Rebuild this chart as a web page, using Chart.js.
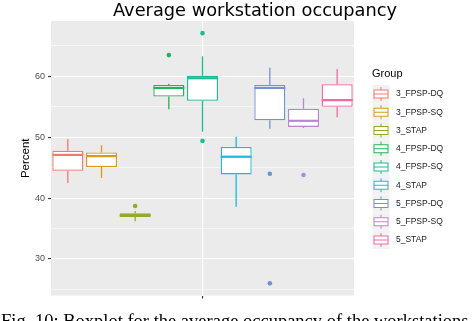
<!DOCTYPE html>
<html>
<head>
<meta charset="utf-8">
<script src="https://cdn.jsdelivr.net/npm/chart.js@4.4.1/dist/chart.umd.min.js"></script>
<style>
    html, body { margin: 0; padding: 0; background: #fff; overflow: hidden; }
    #wrap { position: relative; width: 474px; height: 321px; }
    #caption {
        position: absolute; left: 1px; top: 312px;
        font: 18.5px "Liberation Serif", "Times New Roman", serif; line-height: 18.5px;
        white-space: nowrap; color: #000;
    }
</style>
</head>
<body>
<div id="wrap">
    <canvas id="occupancyChart"></canvas>
    <div id="caption">Fig. 10: Boxplot for the average occupancy of the workstations</div>
</div>
<script>
// --- DATA ---
const groups = ['3_FPSP-DQ', '3_FPSP-SQ', '3_STAP', '4_FPSP-DQ', '4_FPSP-SQ', '4_STAP', '5_FPSP-DQ', '5_FPSP-SQ', '5_STAP'];
const groupColors = ['#F2796F', '#D69A1C', '#93AA2A', '#22B552', '#1DBB98', '#1FB6DE', '#7093D0', '#B987D2', '#EC6AA6'];
const whiskerLow  = [42.5, 43.3, 36.2, 54.6, 50.9, 38.6, 51.4, 51.5, 53.3];
const q1          = [44.5, 45.1, 36.9, 56.7, 56.0, 43.9, 52.8, 51.7, 55.0];
const median      = [47.1, 46.9, 37.2, 58.1, 59.7, 46.8, 58.1, 52.7, 56.1];
const q3          = [47.8, 47.5, 37.5, 58.6, 60.1, 48.4, 58.6, 54.7, 58.7];
const whiskerHigh = [49.7, 48.7, 37.9, 58.8, 63.3, 50.1, 61.4, 56.4, 61.2];
const outliers    = [[], [], [38.7], [63.5], [67.1, 49.4], [], [44.0, 26.0], [43.8], []];
const yTicks = [30, 40, 50, 60];
const yMinorTicks = [25, 35, 45, 55, 65];

// --- HELPERS ---
const outlierPoints = [];
const outlierColors = [];
outliers.forEach((vals, i) => {
    vals.forEach(v => {
        outlierPoints.push({ x: i + 1, y: v });
        outlierColors.push(groupColors[i]);
    });
});

// panel background, whiskers, medians, title and legend
const boxplotPlugin = {
    id: 'boxplotParts',
    beforeDraw(chart) {
        const { ctx, chartArea: a } = chart;
        ctx.save();
        ctx.fillStyle = '#EBEBEB';
        ctx.fillRect(a.left, a.top, a.right - a.left, a.bottom - a.top);
        ctx.restore();
    },
    beforeDatasetsDraw(chart) {
        const { ctx } = chart;
        const y = chart.scales.y;
        const bars = chart.getDatasetMeta(0).data;
        ctx.save();
        ctx.lineWidth = 1.3;
        bars.forEach((bar, i) => {
            ctx.strokeStyle = groupColors[i];
            ctx.beginPath();
            ctx.moveTo(bar.x, y.getPixelForValue(whiskerHigh[i]));
            ctx.lineTo(bar.x, y.getPixelForValue(q3[i]));
            ctx.moveTo(bar.x, y.getPixelForValue(q1[i]));
            ctx.lineTo(bar.x, y.getPixelForValue(whiskerLow[i]));
            ctx.stroke();
        });
        ctx.restore();
    },
    afterDatasetsDraw(chart) {
        const { ctx } = chart;
        const y = chart.scales.y;
        const bars = chart.getDatasetMeta(0).data;
        ctx.save();
        ctx.lineWidth = 2.2;
        bars.forEach((bar, i) => {
            const py = y.getPixelForValue(median[i]);
            ctx.strokeStyle = groupColors[i];
            ctx.beginPath();
            ctx.moveTo(bar.x - bar.width / 2, py);
            ctx.lineTo(bar.x + bar.width / 2, py);
            ctx.stroke();
        });
        ctx.restore();
    },
    afterDraw(chart) {
        const { ctx } = chart;
        ctx.save();
        // title
        ctx.fillStyle = '#000';
        ctx.font = '17.8px "DejaVu Sans", sans-serif';
        ctx.textAlign = 'center';
        ctx.textBaseline = 'alphabetic';
        ctx.fillText('Average workstation occupancy', 255, 15.5);

        // legend
        ctx.textAlign = 'left';
        ctx.textBaseline = 'middle';
        ctx.font = '11px "Liberation Sans", Arial, sans-serif';
        ctx.fillText('Group', 372, 74);
        ctx.font = '8.5px "Liberation Sans", Arial, sans-serif';
        groups.forEach((g, i) => {
            const cy = 94 + i * 18.25;
            const cx = 381;
            ctx.fillStyle = '#F2F2F2';
            ctx.fillRect(cx - 8.5, cy - 9, 17, 18);
            ctx.strokeStyle = groupColors[i];
            ctx.lineWidth = 1;
            ctx.beginPath();
            ctx.moveTo(cx, cy - 7);
            ctx.lineTo(cx, cy + 7);
            ctx.stroke();
            ctx.fillStyle = '#fff';
            ctx.fillRect(cx - 7, cy - 4, 14, 8);
            ctx.strokeRect(cx - 7, cy - 4, 14, 8);
            ctx.beginPath();
            ctx.moveTo(cx - 7, cy);
            ctx.lineTo(cx + 7, cy);
            ctx.stroke();
            ctx.fillStyle = '#1A1A1A';
            ctx.fillText(g, 396, cy);
        });
        ctx.restore();
    }
};

Chart.defaults.font.family = '"Liberation Sans", Arial, sans-serif';

new Chart(document.getElementById('occupancyChart'), {
    type: 'bar',
    data: {
        datasets: [
            {
                type: 'bar',
                data: groups.map((g, i) => ({ x: i + 1, y: [q1[i], q3[i]] })),
                backgroundColor: '#FFFFFF',
                borderColor: groupColors,
                borderWidth: 1.3,
                borderSkipped: false,
                categoryPercentage: 1,
                barPercentage: 0.92
            },
            {
                type: 'scatter',
                data: outlierPoints,
                pointBackgroundColor: outlierColors,
                pointBorderWidth: 0,
                pointRadius: 2.3
            }
        ]
    },
    options: {
        responsive: true,
        maintainAspectRatio: false,
        animation: false,
        layout: { padding: { left: 0, top: 21, right: 120, bottom: 20.5 } },
        plugins: { legend: { display: false }, title: { display: false }, tooltip: { enabled: false } },
        scales: {
            x: {
                type: 'linear',
                min: 0.5,
                max: 9.5,
                offset: false,
                border: { display: false },
                grid: { offset: false, color: '#FFFFFF', lineWidth: 1.1, tickColor: '#333333', tickLength: 3 },
                ticks: { callback: () => '', padding: 0 },
                afterBuildTicks: axis => { axis.ticks = [{ value: 5 }]; },
                afterFit: axis => { axis.height = 5; }
            },
            y: {
                type: 'linear',
                min: 24,
                max: 69.1,
                border: { display: false },
                grid: {
                    color: '#FFFFFF',
                    lineWidth: c => (yTicks.includes(c.tick && c.tick.value) ? 1.1 : 0.55),
                    tickColor: c => (yTicks.includes(c.tick && c.tick.value) ? '#333333' : 'rgba(0,0,0,0)'),
                    tickLength: 3
                },
                ticks: {
                    autoSkip: false,
                    padding: 3,
                    color: '#4D4D4D',
                    font: { size: 9 },
                    callback: v => (yTicks.includes(v) ? String(v) : '')
                },
                afterBuildTicks: axis => {
                    axis.ticks = yMinorTicks.concat(yTicks).sort((a, b) => a - b).map(v => ({ value: v }));
                },
                afterFit: axis => { axis.width = 51; },
                title: { display: true, text: 'Percent', color: '#000', font: { size: 11.5 }, padding: { top: 19, bottom: 0 } }
            }
        }
    },
    plugins: [boxplotPlugin]
});
</script>
</body>
</html>
